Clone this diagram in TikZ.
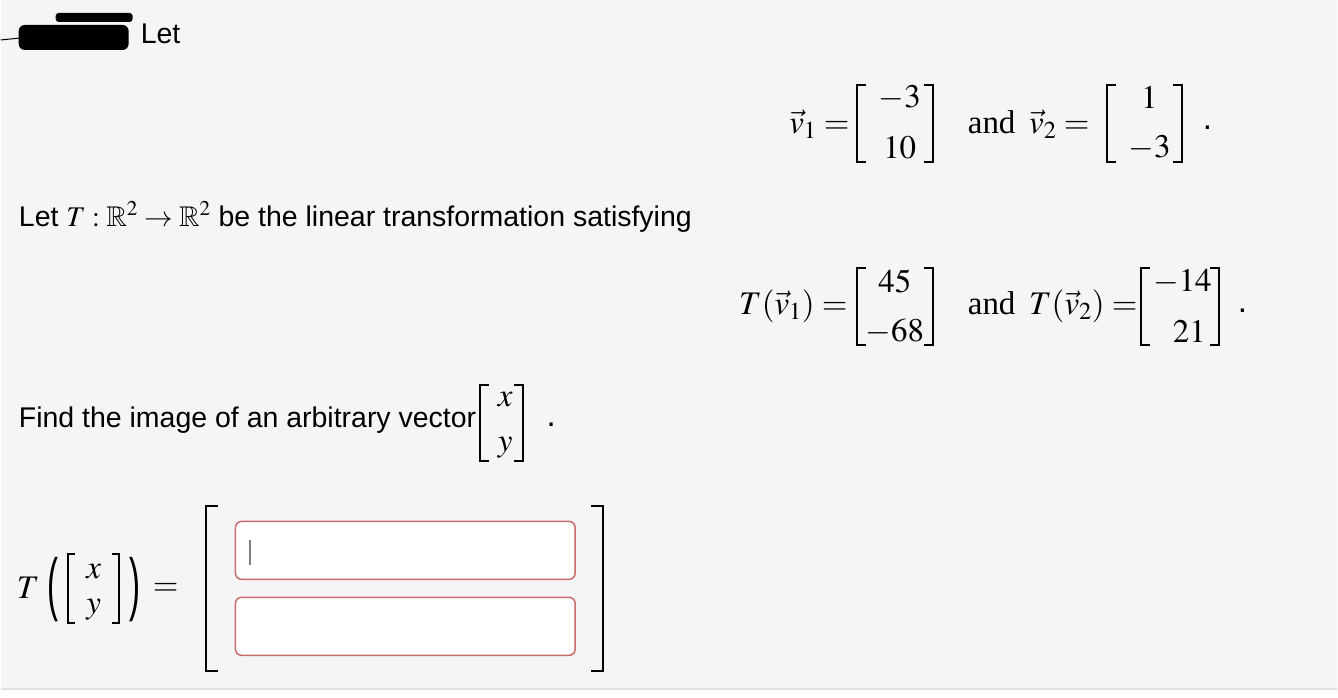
\documentclass[tikz,border=0pt]{standalone}
\usepackage{amssymb}
\usepackage{mathptmx}
\usepackage{fontspec}
\setmainfont{Liberation Sans}
\newfontfamily\serf{Liberation Serif}
\tikzset{
 txt/.style={anchor=west,inner sep=0pt,font=\fontsize{28.5}{32}\selectfont},
 mth/.style={inner sep=0pt,font=\fontsize{33}{36}\selectfont},
 brk/.style={line width=2pt},
 inbox/.style={draw=red!45!gray!80,line width=1.5pt,fill=white,rounded corners=6pt},
}
\newcommand{\lbrk}[4]{\draw[brk] (#1+#3,-#2) -- (#1,-#2) -- (#1,-#4) -- (#1+#3,-#4);}
\newcommand{\rbrk}[4]{\draw[brk] (#1-#3,-#2) -- (#1,-#2) -- (#1,-#4) -- (#1-#3,-#4);}
\begin{document}
\begin{tikzpicture}[x=1pt,y=1pt]
\fill[white] (0,0) rectangle (1338,-698);
\fill[gray!8] (0,0) rectangle (1338,-690);
\draw[gray!25,line width=1.5pt] (0,-690) -- (1338,-690);
% redaction
\fill[black,rounded corners=6pt] (18,-25) rectangle (128,-50);
\fill[black,rounded corners=3pt] (55,-13) rectangle (132,-22);
\draw[black,line width=1pt] (0,-40) -- (20,-38);
\node[txt] (let) at (140,-34) {Let};
% v vectors
\node[mth,anchor=east] (v1) at (850,-124) {$\vec{v}_1 =$};
\lbrk{857}{85}{9}{162}\rbrk{933}{85}{9}{162}
\node[mth] (a1) at (900,-98) {$-3$};
\node[mth] (a2) at (900,-148) {$10$};
\node[mth,anchor=west] (and1) at (968,-124) {\serf and\, $\vec{v}_2 =$};
\lbrk{1107}{85}{9}{162}\rbrk{1183}{85}{9}{162}
\node[mth] (b1) at (1150,-98) {$1$};
\node[mth] (b2) at (1150,-148) {$-3$};
\node[mth] (d1) at (1208,-128) {.};
\node[txt] (l2) at (18,-217) {Let $T:\mathbb{R}^2\rightarrow\mathbb{R}^2$ be the linear transformation satisfying};
% T(v)
\node[mth,anchor=east] (tv1) at (848,-307) {$T(\vec{v}_1) =$};
\lbrk{857}{268}{9}{345}\rbrk{933}{268}{9}{345}
\node[mth] (c1) at (895,-282) {$45$};
\node[mth] (c2) at (895,-332) {$-68$};
\node[mth,anchor=west] (and2) at (968,-307) {\serf and\, $T(\vec{v}_2) =$};
\lbrk{1142}{268}{9}{345}\rbrk{1220}{268}{9}{345}
\node[mth] (e1) at (1183,-282) {$-14$};
\node[mth] (e2) at (1190,-332) {$21$};
\node[mth] (d2) at (1243,-311) {.};
\node[txt] (l3) at (18,-421) {Find the image of an arbitrary vector};
\lbrk{480}{385}{9}{462}\rbrk{523}{385}{9}{462}
\node[mth] (x1) at (505,-400) {$x$};
\node[mth] (y1) at (505,-448) {$y$};
\node[mth] (d3) at (551,-425) {.};
% bottom
\node[mth,anchor=west] (T) at (16,-588) {$T$};
\node[mth] (p) at (52,-590) {\scalebox{1}[2.1]{(}};
\node[mth] (p2) at (134,-590) {\scalebox{1}[2.1]{)}};
\lbrk{67}{555}{7}{624}\rbrk{118}{555}{7}{624}
\node[mth] (x2) at (93,-572) {$x$};
\node[mth] (y2) at (93,-610) {$y$};
\node[mth] (eq) at (165,-590) {$=$};
\lbrk{205}{507}{12}{672}\rbrk{603}{507}{12}{672}
\node[inbox,minimum width=340pt,minimum height=58pt] (bx1) at (405,-551) {};
\node[inbox,minimum width=340pt,minimum height=58pt] (bx2) at (405,-627) {};
\draw[gray,line width=2pt] (250,-541) -- (250,-566);
\end{tikzpicture}
\end{document}
